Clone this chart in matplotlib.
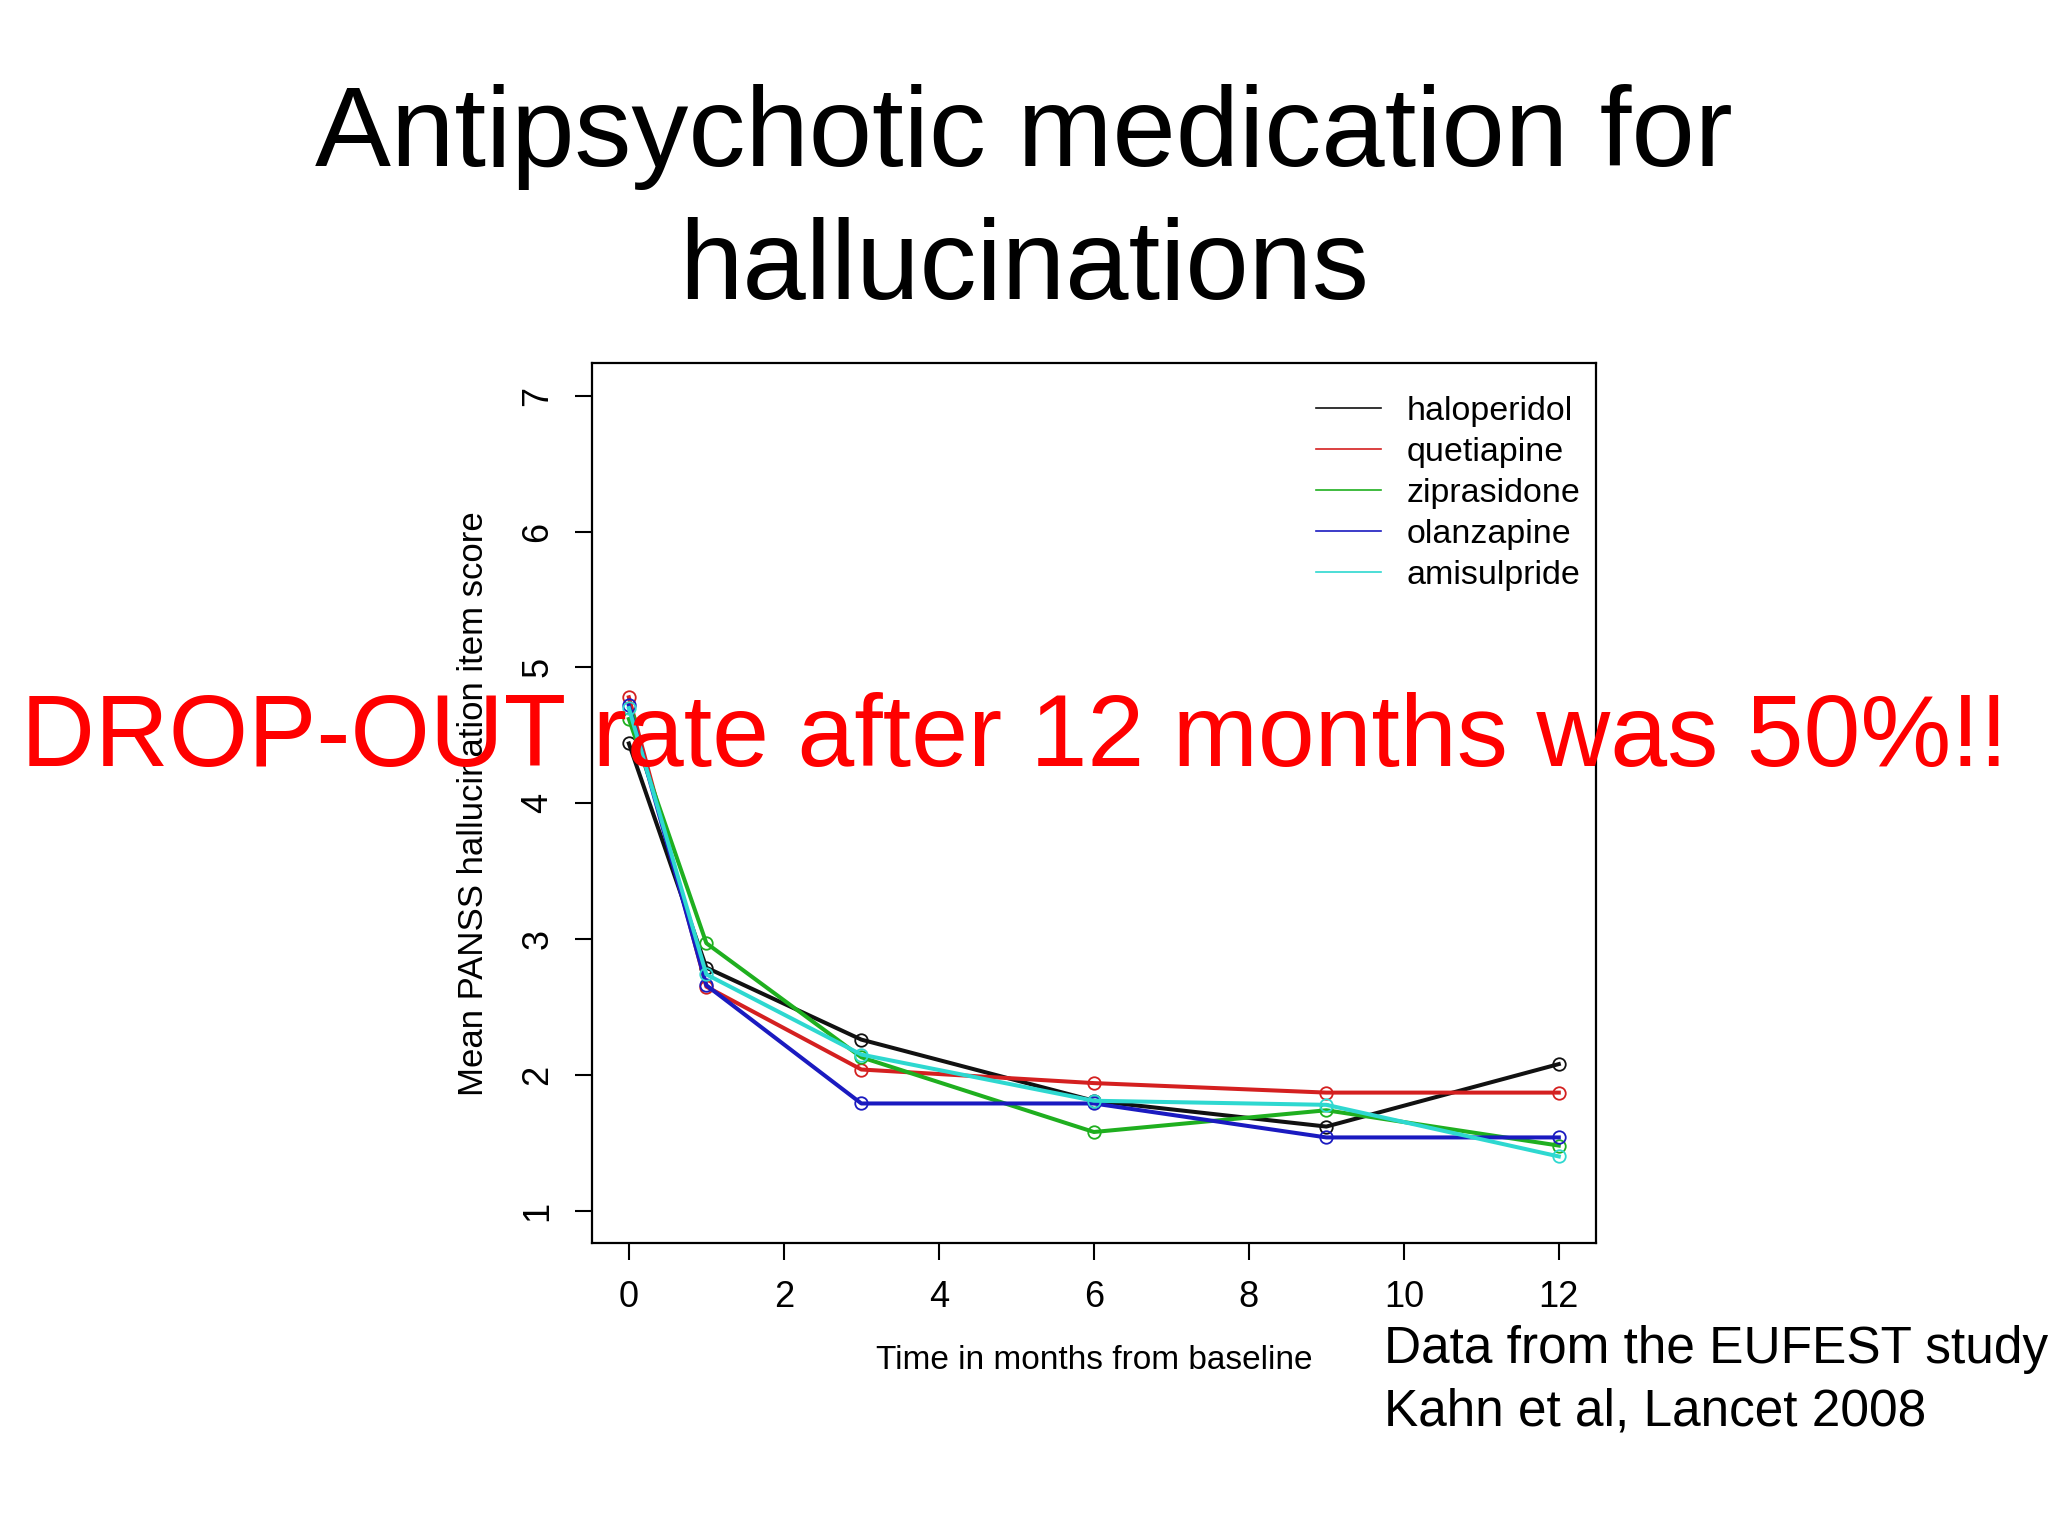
import matplotlib
matplotlib.use("Agg")
import matplotlib.pyplot as plt

# months from baseline and mean PANSS hallucination item score per drug
months = [0, 1, 3, 6, 9, 12]
haloperidol = [4.44, 2.79, 2.26, 1.81, 1.62, 2.08]
quetiapine = [4.78, 2.65, 2.04, 1.94, 1.87, 1.87]
ziprasidone = [4.62, 2.97, 2.13, 1.58, 1.74, 1.48]
olanzapine = [4.72, 2.66, 1.79, 1.79, 1.54, 1.54]
amisulpride = [4.70, 2.74, 2.15, 1.81, 1.78, 1.40]

drugs = ["haloperidol", "quetiapine", "ziprasidone", "olanzapine", "amisulpride"]
series = [haloperidol, quetiapine, ziprasidone, olanzapine, amisulpride]
colors = ["#111111", "#D42020", "#1FAF1F", "#1A1AC0", "#2ED8D0"]

x_ticks = [0, 2, 4, 6, 8, 10, 12]
y_ticks = [1, 2, 3, 4, 5, 6, 7]

chart_font = ["Liberation Sans", "DejaVu Sans"]
slide_font = ["Liberation Sans", "DejaVu Sans"]

fig = plt.figure(figsize=(20.48, 15.36), dpi=100)
fig.patch.set_facecolor("white")

ax = fig.add_axes([0.2889, 0.1905, 0.4904, 0.5731])
for name, vals, col in zip(drugs, series, colors):
    ax.plot(months, vals, color=col, lw=2.9, marker="o", ms=9,
            mfc="none", mec=col, mew=1.3, label=name)

ax.set_xlim(-0.48, 12.48)
ax.set_ylim(0.76, 7.24)
ax.set_xticks(x_ticks)
ax.set_yticks(y_ticks)
ax.set_xticklabels([str(t) for t in x_ticks], family=chart_font, fontsize=26)
ax.set_yticklabels([str(t) for t in y_ticks], family=chart_font, fontsize=26,
                   rotation=90, va="center")
ax.tick_params(direction="out", length=12, width=1.5, pad=14)
for s in ax.spines.values():
    s.set_linewidth(1.6)
ax.set_xlabel("Time in months from baseline", family=chart_font, fontsize=24,
              labelpad=22)
ax.set_ylabel("Mean PANSS hallucination item score", family=chart_font,
              fontsize=25, labelpad=22)

leg = ax.legend(loc="upper right", bbox_to_anchor=(1.0, 0.98), frameon=False,
                handlelength=1.9, handletextpad=0.77, labelspacing=0.29,
                borderaxespad=0.0, borderpad=0.45,
                prop={"family": chart_font, "size": 24.5})
for h in leg.get_lines():
    h.set_linewidth(1.2)
    h.set_marker("")

fig.text(0.5, 0.911, "Antipsychotic medication for", ha="center", va="center",
         fontsize=82, family=slide_font)
fig.text(0.5, 0.824, "hallucinations", ha="center", va="center",
         fontsize=82, family=slide_font)

fig.text(0.4952, 0.5185, "DROP-OUT rate after 12 months was 50%!!", ha="center",
         va="center", fontsize=73.6, color="#FF0000", family=slide_font, zorder=10)

fig.text(0.676, 0.1215, "Data from the EUFEST study", ha="left", va="center",
         fontsize=37, family=slide_font)
fig.text(0.676, 0.081, "Kahn et al, Lancet 2008", ha="left", va="center",
         fontsize=37, family=slide_font)

fig.savefig("out.png", dpi=100)
